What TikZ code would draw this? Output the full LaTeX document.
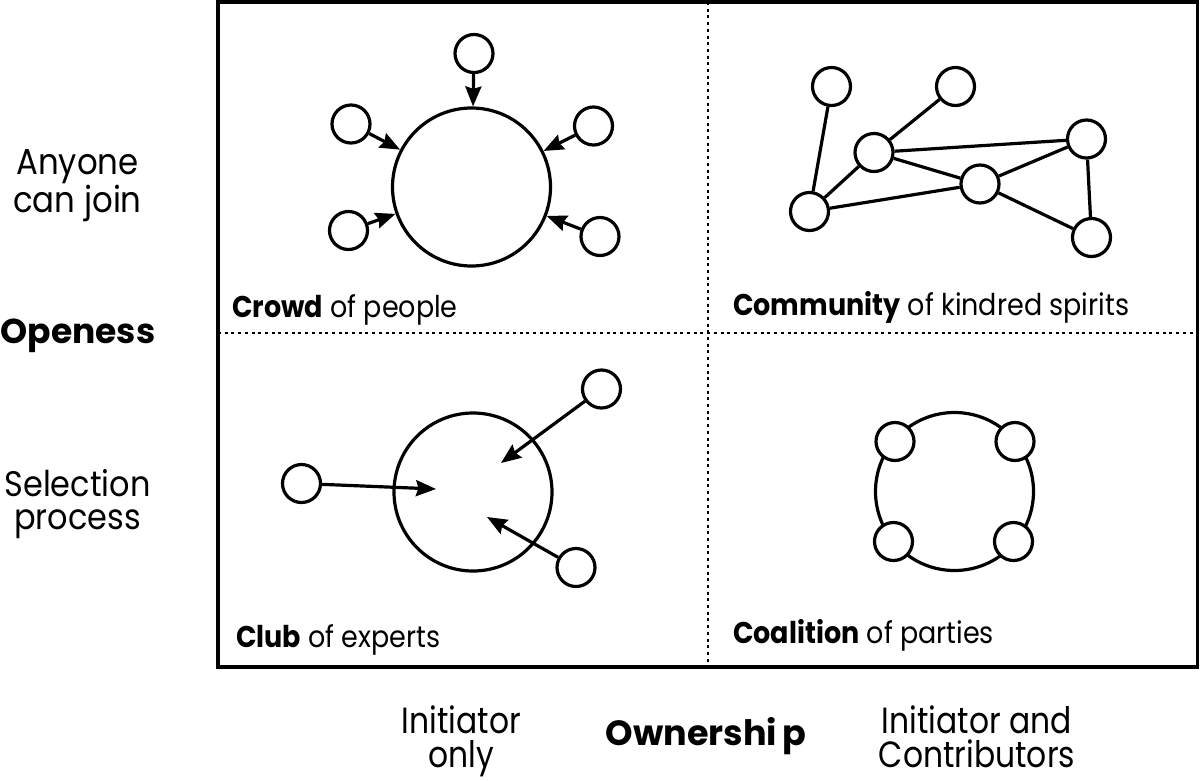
\documentclass[tikz,border=0pt]{standalone}
\usepackage{fontspec}
\setmainfont{Poppins}
\newfontfamily\sidef{Poppins}[FakeStretch=0.9]
\newfontfamily\quadf{Poppins}[FakeStretch=0.9]
\newfontfamily\botf{Poppins}[FakeStretch=0.86]
\usetikzlibrary{arrows.meta}
\tikzset{
  small/.style={circle,draw,line width=3.2pt,minimum size=38pt,inner sep=0pt,fill=white},
  big/.style={circle,draw,line width=3.2pt,minimum size=158pt,inner sep=0pt},
  arr/.style={line width=3.2pt,-{Stealth[length=20pt,width=16pt,inset=2.5pt]}},
  link/.style={line width=3.2pt},
  frame/.style={line width=3.2pt},
  dots/.style={line width=2.8pt,dash pattern=on 3pt off 3.7pt},
  lbl/.style={inner sep=0pt,anchor=base west,font=\quadf\fontsize{30}{30}\selectfont},
  side/.style={inner sep=0pt,anchor=base,align=center,font=\sidef\fontsize{36}{35}\selectfont},
  sidebold/.style={inner sep=0pt,anchor=base,font=\bfseries\fontsize{34.5}{34.5}\selectfont},
  bot/.style={inner sep=0pt,anchor=base,align=center,font=\botf\fontsize{36.5}{33.5}\selectfont},
  botbold/.style={inner sep=0pt,anchor=base,font=\bfseries\fontsize{35}{35}\selectfont}
}
\begin{document}
\begin{tikzpicture}[x=1pt,y=-1pt]
\useasboundingbox (0,0) rectangle (1200,780);
\fill[white] (0,0) rectangle (1200,780);

% frame and quadrant separators
\draw[dots] (708,2) -- (708,667);
\draw[dots] (218,333) -- (1197,333);
\draw[frame] (218,2) rectangle (1197.5,667);

% Crowd
\node[big] (crowd) at (471.5,187) {};
\node[small] (c1) at (474,53.5) {};
\node[small] (c2) at (351,124) {};
\node[small] (c3) at (593.5,126) {};
\node[small] (c4) at (348.5,230.5) {};
\node[small] (c5) at (600,236.5) {};
\foreach \n in {c1,c2,c3,c4,c5} \draw[arr] (\n) -- (crowd);

% Community
\node[small] (m1) at (831.5,86.5) {};
\node[small] (m2) at (955.5,86.5) {};
\node[small] (m3) at (874,152.5) {};
\node[small] (m4) at (1086.5,139) {};
\node[small] (m5) at (980,184) {};
\node[small] (m6) at (809.5,211.5) {};
\node[small] (m7) at (1091.5,237.5) {};
\draw[link] (m1) -- (m6);
\draw[link] (m2) -- (m3);
\draw[link] (m3) -- (m4);
\draw[link] (m3) -- (m5);
\draw[link] (m3) -- (m6);
\draw[link] (m6) -- (m5);
\draw[link] (m5) -- (m4);
\draw[link] (m5) -- (m7);
\draw[link] (m4) -- (m7);

% Club
\node[big] (club) at (473,492) {};
\node[small] (k1) at (301.5,483.5) {};
\node[small] (k2) at (601.5,389) {};
\node[small] (k3) at (576,567.5) {};
\coordinate (t1) at (436,489);
\coordinate (t2) at (501,463);
\coordinate (t3) at (487,517);
\draw[arr] (k1) -- (t1);
\draw[arr] (k2) -- (t2);
\draw[arr] (k3) -- (t3);

% Coalition
\node[big] (coal) at (954.5,491.5) {};
\node[small] (q1) at (895,441.5) {};
\node[small] (q2) at (1015,441.5) {};
\node[small] (q3) at (893.5,541.5) {};
\node[small] (q4) at (1013.5,541.5) {};

% quadrant labels
\node[lbl] (lcrowd) at (232,317) {\textbf{Crowd} of people};
\node[lbl] (lcomm) at (733,315) {\textbf{Community} of kindred spirits};
\node[lbl] (lclub) at (236,647) {\textbf{Club} of experts};
\node[lbl] (lcoal) at (733,643) {\textbf{Coalition} of parties};

% side labels (base anchor = baseline of the last line)
\node[side] (s1) at (77.5,212) {Anyone\\can join};
\node[sidebold] (open) at (78,343) {Openess};
\node[side,font=\sidef\fontsize{35.5}{33}\selectfont] (s2) at (77.5,529) {Selection\\process};

% bottom labels
\node[bot] (b1) at (461.5,767) {Initiator\\only};
\node[botbold] (own) at (706,745) {Ownershi\kern5pt p};
\node[bot] (b2) at (977,767) {Initiator and\\Contributors};
\end{tikzpicture}
\end{document}
